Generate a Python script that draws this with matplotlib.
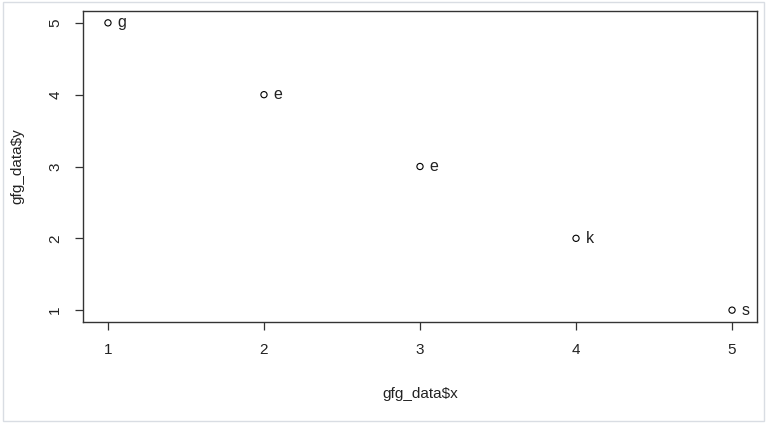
import matplotlib
matplotlib.use("Agg")
import matplotlib.pyplot as plt
from matplotlib.patches import Rectangle

# data
x_vals = [1, 2, 3, 4, 5]
y_vals = [5, 4, 3, 2, 1]
labels = ["g", "e", "e", "k", "s"]
x_ticks = [1, 2, 3, 4, 5]
y_ticks = [1, 2, 3, 4, 5]

ink = "#222222"
plt.rcParams["font.family"] = ["Liberation Sans", "DejaVu Sans"]

fig = plt.figure(figsize=(7.68, 4.23), dpi=100)
ax = fig.add_axes([83 / 768, 101 / 423, 674 / 768, 311 / 423])

ax.scatter(x_vals, y_vals, s=20, facecolors="none", edgecolors="black",
           linewidths=0.8, zorder=3)
for xv, yv, lab in zip(x_vals, y_vals, labels):
    ax.annotate(lab, (xv, yv), xytext=(7, 0), textcoords="offset points",
                ha="left", va="center", fontsize=11.5, color=ink)

ax.set_xlim(0.84, 5.16)
ax.set_ylim(0.835, 5.165)
ax.set_xticks(x_ticks)
ax.set_yticks(y_ticks)
ax.set_yticklabels([str(v) for v in y_ticks], rotation=90, va="center")
ax.tick_params(direction="out", length=6, width=0.9, colors="#333333",
               labelcolor=ink, labelsize=11, pad=9)
for sp in ax.spines.values():
    sp.set_color("#333333")
    sp.set_linewidth(1.0)

ax.set_xlabel(r"gfg_data\$x", fontsize=11, color=ink, labelpad=22)
ax.set_ylabel(r"gfg_data\$y", fontsize=11, color=ink, labelpad=17)

# light frame around the whole image
fig.patches.append(Rectangle((3 / 768, 2 / 423), 761 / 768, 419 / 423,
                             transform=fig.transFigure, fill=False,
                             edgecolor="#d9dde3", linewidth=1.0))

fig.savefig("out.png", dpi=100)
